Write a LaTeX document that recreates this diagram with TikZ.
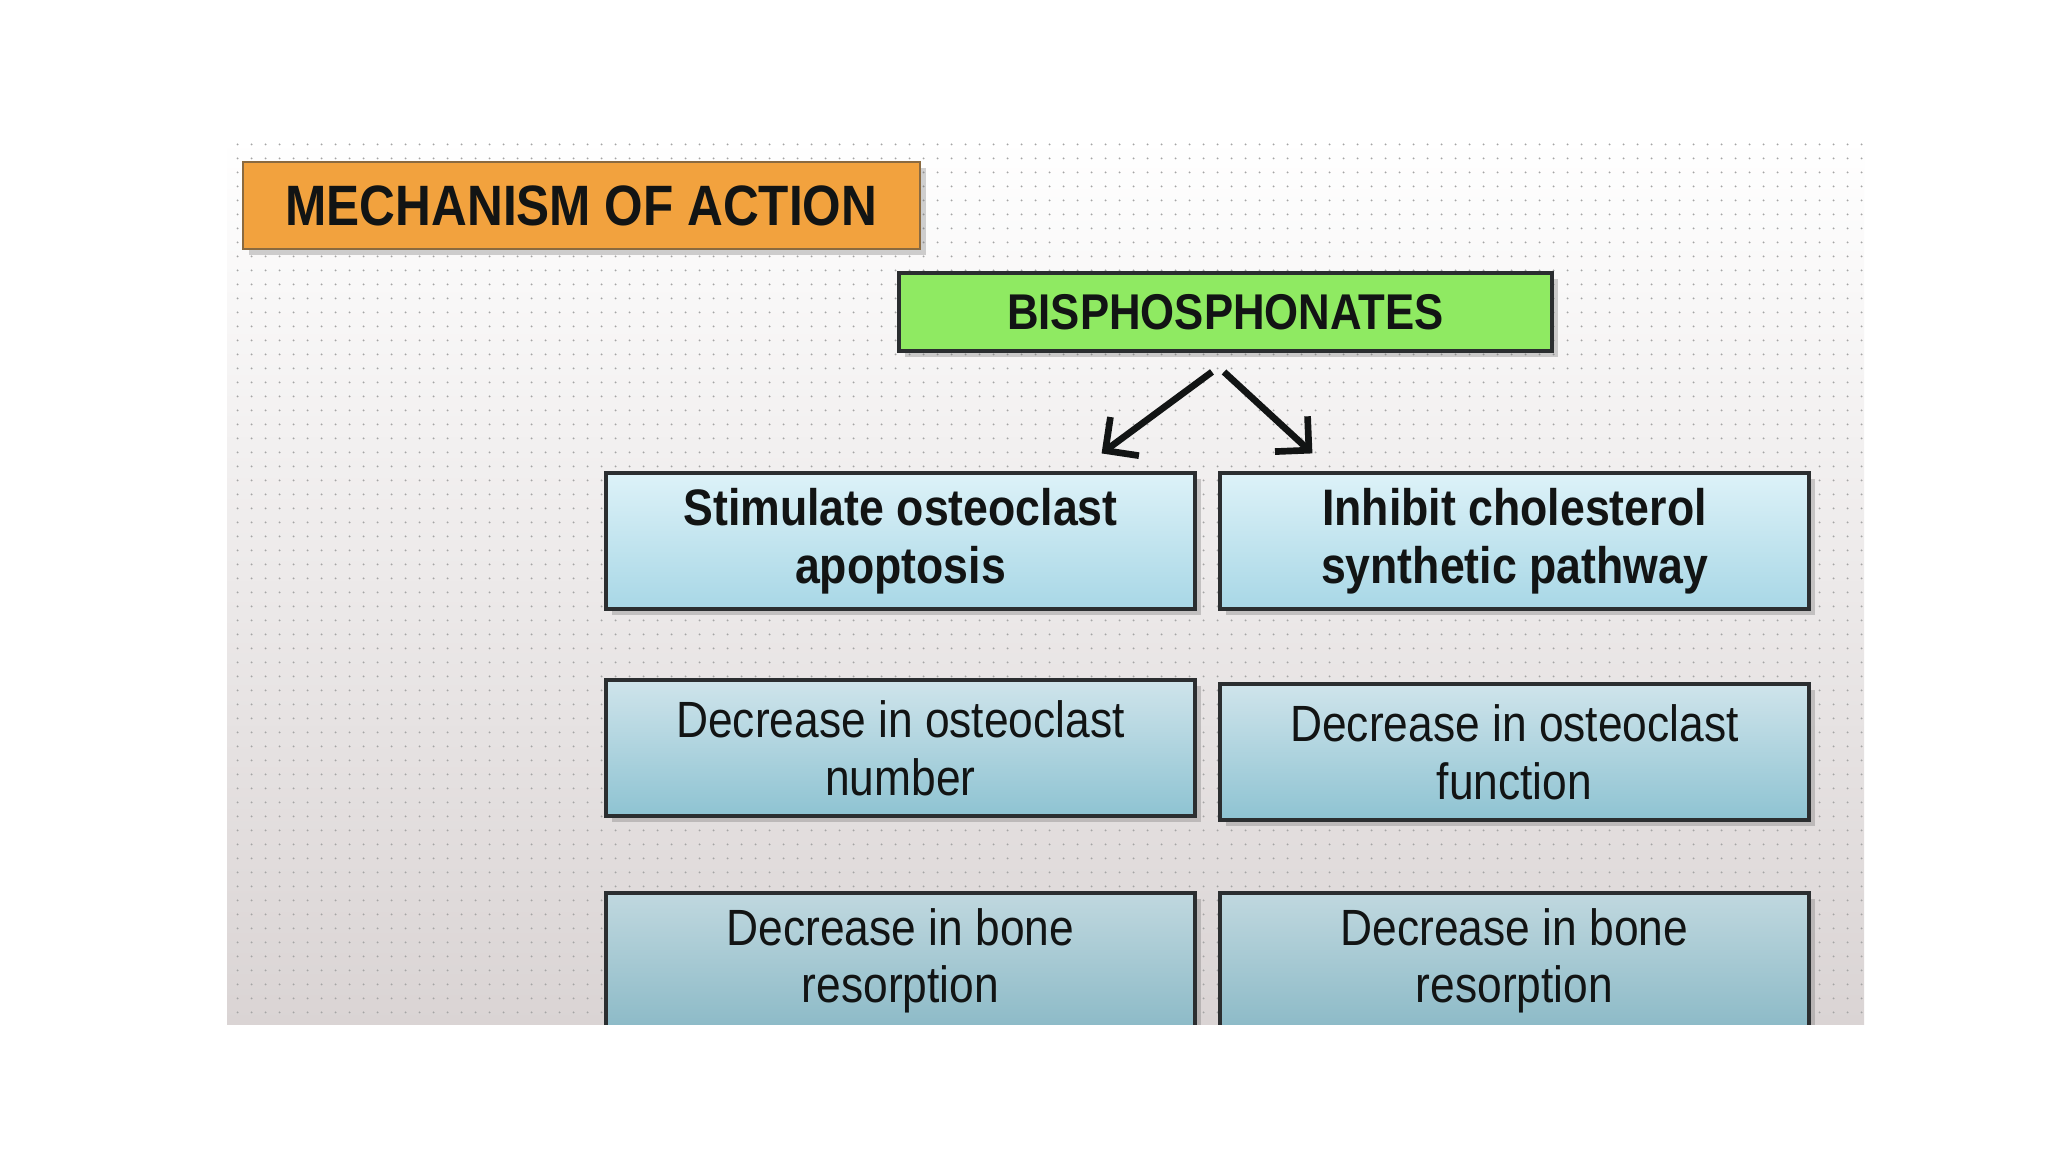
\documentclass[tikz,border=0pt]{standalone}
\usepackage{fontspec}
\setmainfont[FakeStretch=0.87]{Liberation Sans}
\usetikzlibrary{arrows.meta,calc,positioning,shadows,patterns.meta}
\definecolor{ink}{HTML}{121414}
\definecolor{edge}{HTML}{2B2E30}
\definecolor{panelLow}{HTML}{DAD4D4}
\definecolor{dotgray}{HTML}{A5A5A5}
\definecolor{orangeFill}{HTML}{F2A23E}
\definecolor{orangeEdge}{HTML}{8A6A40}
\definecolor{limeFill}{HTML}{8FEA62}
\definecolor{rowAtop}{HTML}{DDF2F8}
\definecolor{rowAbot}{HTML}{A8D7E6}
\definecolor{rowBtop}{HTML}{CFE4EB}
\definecolor{rowBbot}{HTML}{8EC3D2}
\definecolor{rowCtop}{HTML}{C0D8DF}
\definecolor{rowCbot}{HTML}{8CBAC7}
\tikzset{
  basebox/.style={draw=edge,line width=0.9pt,align=center,text=ink,inner sep=0pt,
    drop shadow={shadow xshift=0.6mm,shadow yshift=-0.6mm,opacity=0.3,fill=black!60}},
  titlebox/.style={basebox,draw=orangeEdge,line width=0.5pt,fill=orangeFill,minimum width=6.77cm,minimum height=0.87cm,
    font=\fontsize{16.2}{19}\selectfont\bfseries},
  drugbox/.style={basebox,line width=1.1pt,fill=limeFill,minimum width=6.53cm,minimum height=0.78cm,
    font=\fontsize{14.3}{17}\selectfont\bfseries},
  effectbox/.style={basebox,top color=rowAtop,bottom color=rowAbot,minimum width=5.89cm,minimum height=1.36cm,
    font=\fontsize{14.6}{16.4}\selectfont\bfseries},
  levelbox/.style={basebox,top color=rowBtop,bottom color=rowBbot,minimum width=5.89cm,minimum height=1.36cm,
    font=\fontsize{14.5}{16.4}\selectfont},
  resultbox/.style={levelbox,top color=rowCtop,bottom color=rowCbot},
  arrow/.style={-{Straight Barb[length=2.4mm,width=4.8mm]},line width=1.9pt,draw=ink}
}
\begin{document}
\begin{tikzpicture}
  \useasboundingbox (0,0) rectangle (20.48,11.52);
  \fill[white] (0,0) rectangle (20.48,11.52);
  \fill[top color=white,bottom color=panelLow] (2.27,1.27) rectangle (18.64,10.15);
  \fill[pattern={Dots[distance=1.4mm,radius=0.11mm]},pattern color=dotgray] (2.27,1.27) rectangle (18.64,10.15);

  \node[titlebox] (title) at (5.815,9.465) {MECHANISM OF ACTION};
  \node[drugbox] (drug) at (12.255,8.40) {BISPHOSPHONATES};

  \node[effectbox] (apop) at (9.005,6.11) {Stimulate osteoclast\\apoptosis};
  \node[effectbox] (chol) at (15.145,6.11) {Inhibit cholesterol\\synthetic pathway};
  \node[levelbox] (numb) at (9.005,4.04) {Decrease in osteoclast\\number};
  \node[levelbox] (func) at (15.145,4.00) {Decrease in osteoclast\\function};
  \begin{scope}
    \clip (2.27,1.27) rectangle (18.64,10.15);
    \node[resultbox] (resL) at (9.005,1.91) {Decrease in bone\\resorption};
    \node[resultbox] (resR) at (15.145,1.91) {Decrease in bone\\resorption};
  \end{scope}

  \draw[arrow] ($(drug.south)+(-0.135,-0.19)$) -- ($(apop.north east)+(-0.95,0.18)$);
  \draw[arrow] ($(drug.south)+(-0.015,-0.19)$) -- ($(chol.north west)+(0.94,0.18)$);
\end{tikzpicture}
\end{document}
